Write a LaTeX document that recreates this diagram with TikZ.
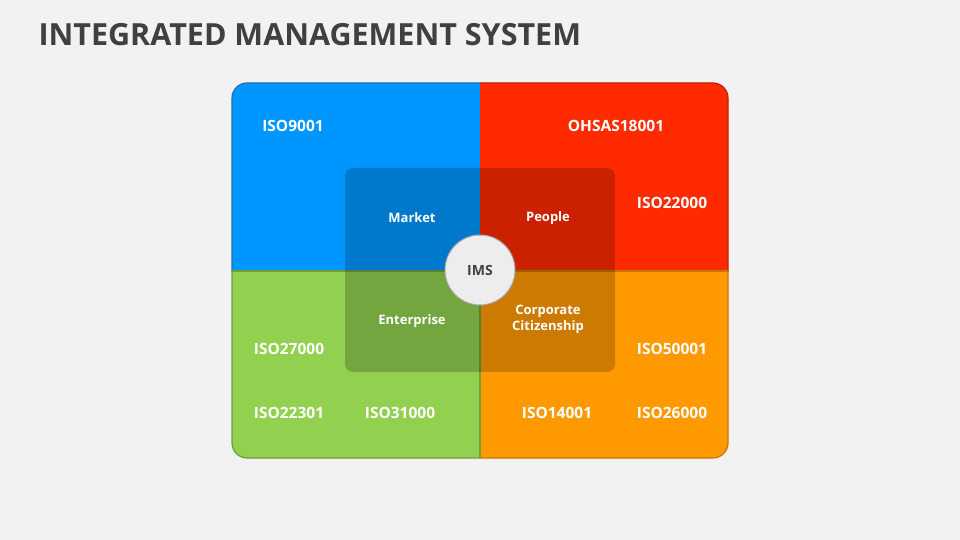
\documentclass[tikz,border=0pt]{standalone}
\usepackage{fontspec}
\setmainfont{Open Sans}
\definecolor{qblue}{HTML}{0096FF}\definecolor{qblueD}{HTML}{1F6FB0}
\definecolor{qred}{HTML}{FF2A00}\definecolor{qredD}{HTML}{C02000}
\definecolor{qgreen}{HTML}{92D050}\definecolor{qgreenD}{HTML}{6FA03A}
\definecolor{qorange}{HTML}{FF9900}\definecolor{qorangeD}{HTML}{C87800}
\definecolor{bg}{HTML}{F2F2F2}\definecolor{ttl}{HTML}{404040}
\begin{document}
\begin{tikzpicture}[x=1pt,y=-1pt,
  lbl/.style={text=white,font=\bfseries\fontsize{15.5}{18}\selectfont,align=center},
  ilbl/.style={text=white,font=\bfseries\fontsize{13}{16}\selectfont,align=center},
  quad/.style={line width=1.2pt,rounded corners=15pt}]
\fill[bg] (0,0) rectangle (960,540);
\useasboundingbox (0,0) rectangle (960,540);
\node[anchor=west,text=ttl,font=\bfseries\fontsize{30.5}{34}\selectfont] (title) at (35,35) {INTEGRATED MANAGEMENT SYSTEM};
\begin{scope}\clip (220,70) rectangle (480,271);
\filldraw[quad,fill=qblue,draw=qblueD] (232,83) rectangle (728,458);\end{scope}
\begin{scope}\clip (480,70) rectangle (740,271);
\filldraw[quad,fill=qred,draw=qredD] (232,83) rectangle (728,458);\end{scope}
\begin{scope}\clip (220,271) rectangle (480,470);
\filldraw[quad,fill=qgreen,draw=qgreenD] (232,83) rectangle (728,458);\end{scope}
\begin{scope}\clip (480,271) rectangle (740,470);
\filldraw[quad,fill=qorange,draw=qorangeD] (232,83) rectangle (728,458);\end{scope}
\draw[qgreenD,line width=1.2pt] (232,271) -- (480,271) -- (480,458);
\draw[qorangeD,line width=1.2pt] (728,271) -- (480,271);
\fill[black,opacity=0.2,rounded corners=8pt] (345,168) rectangle (615,372);
\node[circle,minimum size=70pt,fill=white!93!black,draw=gray!70,line width=1pt,text=ttl,font=\bfseries\fontsize{14}{16}\selectfont] (ims) at (480,270) {IMS};
\node[lbl] (a) at (293,126) {ISO9001};
\node[lbl] (b) at (616,126) {OHSAS18001};
\node[lbl] (c) at (672,203) {ISO22000};
\node[lbl] (d) at (289,349) {ISO27000};
\node[lbl] (e) at (672,349) {ISO50001};
\node[lbl] (f) at (289,413) {ISO22301};
\node[lbl] (g) at (400,413) {ISO31000};
\node[lbl] (h) at (557,413) {ISO14001};
\node[lbl] (i) at (672,413) {ISO26000};
\node[ilbl] (m) at (412,218) {Market};
\node[ilbl] (p) at (548,218) {People};
\node[ilbl] (en) at (412,321) {Enterprise};
\node[ilbl] (cc) at (548,319) {Corporate\\Citizenship};
\end{tikzpicture}
\end{document}
